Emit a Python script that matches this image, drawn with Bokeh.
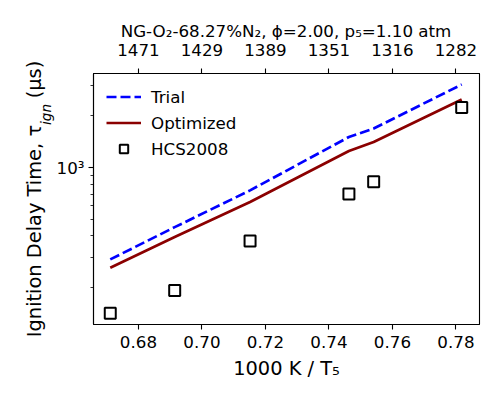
import math
from bokeh.plotting import figure
from bokeh.models import (Range1d, LinearAxis, FixedTicker, Label, Legend, LegendItem)
from bokeh.embed import file_html
from bokeh.resources import INLINE

# ---- data ----
inv_T = [0.67113, 0.69142, 0.71516, 0.74629, 0.75409, 0.78182]
tau_trial = [292, 450, 737, 1508, 1689, 3048]
tau_optimized = [261, 394, 630, 1250, 1410, 2492]
tau_hcs2008 = [141.8, 192.6, 374, 703, 826, 2241]

x_ticks = [0.68, 0.70, 0.72, 0.74, 0.76, 0.78]
x_tick_labels = ["0.68", "0.70", "0.72", "0.74", "0.76", "0.78"]
top_tick_labels = ["1471", "1429", "1389", "1351", "1316", "1282"]
y_major_ticks = [1000]
y_major_labels = ["10³"]
y_minor_ticks = [200, 300, 400, 500, 600, 700, 800, 900, 2000, 3000]

title_text = "NG-O₂-68.27%N₂, ϕ=2.00, p₅=1.10 atm"
x_label = "1000 K / T₅"
y_label = "Ignition Delay Time, τ\u00a0\u00a0\u00a0\u00a0\u200a(μs)"
y_label_sub = "ign"
series_names = ["Trial", "Optimized", "HCS2008"]

FONT = "DejaVu Sans"
TICK_FS = "16.7px"
LABEL_FS = "19.4px"

X0, X1 = 0.66585, 0.78742
Y0, Y1 = 122, 3532
FL, FW, FB, FH = 93, 386, 324, 251   # frame left, width, bottom, height (canvas px)

p = figure(width=500, height=400, output_backend="svg", toolbar_location=None,
           x_range=Range1d(X0, X1), y_range=Range1d(Y0, Y1),
           y_axis_type="log",
           min_border_left=FL, min_border_right=500 - FL - FW,
           min_border_top=FB - FH, min_border_bottom=400 - FB,
           background_fill_color="white", border_fill_color="white")

p.grid.visible = False
p.outline_line_color = "black"
p.outline_line_width = 1.1
p.outline_line_alpha = 1.0

def style_axis(ax, standoff=4):
    ax.axis_line_color = "black"
    ax.axis_line_width = 1.1
    ax.major_tick_line_color = "black"
    ax.major_tick_line_width = 1.1
    ax.minor_tick_line_color = "black"
    ax.minor_tick_line_width = 0.8
    ax.major_tick_in = 0
    ax.major_tick_out = 5
    ax.minor_tick_in = 0
    ax.minor_tick_out = 3
    ax.major_label_text_font = FONT
    ax.major_label_text_font_size = TICK_FS
    ax.major_label_text_color = "black"
    ax.major_label_standoff = standoff

def style_label(ax, standoff):
    ax.axis_label_text_font = FONT
    ax.axis_label_text_font_size = LABEL_FS
    ax.axis_label_text_font_style = "normal"
    ax.axis_label_text_color = "black"
    ax.axis_label_standoff = standoff

xa = p.xaxis[0]
xa.ticker = FixedTicker(ticks=x_ticks, minor_ticks=[])
xa.major_label_overrides = dict(zip(x_ticks, x_tick_labels))
style_axis(xa, 6)
xa.axis_label = x_label
style_label(xa, 6)

ya = p.yaxis[0]
ya.ticker = FixedTicker(ticks=y_major_ticks, minor_ticks=y_minor_ticks)
ya.major_label_overrides = dict(zip(y_major_ticks, y_major_labels))
style_axis(ya)
ya.axis_label = y_label
style_label(ya, 8)

top = LinearAxis(ticker=FixedTicker(ticks=x_ticks, minor_ticks=[]),
                 major_label_overrides=dict(zip(x_ticks, top_tick_labels)))
style_axis(top, 13)
p.add_layout(top, "above")

r_trial = p.line(inv_T, tau_trial, line_color="#0000ff", line_width=2.7, line_dash="10 4")
r_opt = p.line(inv_T, tau_optimized, line_color="#8b0000", line_width=2.7)
r_exp = p.scatter(inv_T, tau_hcs2008, marker="square", size=11, fill_color=None,
                  line_color="black", line_width=2)

legend = Legend(items=[LegendItem(label=series_names[0], renderers=[r_trial]),
                       LegendItem(label=series_names[1], renderers=[r_opt]),
                       LegendItem(label=series_names[2], renderers=[r_exp])],
                location="top_left", border_line_alpha=0, background_fill_alpha=0,
                label_text_font=FONT, label_text_font_size=TICK_FS, label_text_color="black",
                glyph_width=35, glyph_height=21, label_height=21, spacing=5,
                margin=10, padding=3, label_standoff=10)
p.add_layout(legend)

# canvas pixel -> data coordinates (labels placed in side panels are not clipped)
def cx_to_data(cx):
    return X0 + (cx - FL) / FW * (X1 - X0)

def cy_to_data(cy):
    l0, l1 = math.log10(Y0), math.log10(Y1)
    return 10 ** (l0 + (FB - cy) / FH * (l1 - l0))

# subscript of tau in the y label
p.add_layout(Label(x=cx_to_data(45.5), y=cy_to_data(124.5), text=y_label_sub,
                   angle=90, angle_units="deg", text_align="left",
                   text_baseline="alphabetic", text_font=FONT, text_font_size="13.6px",
                   text_font_style="italic", text_color="black"), "right")

# title
p.add_layout(Label(x=cx_to_data(285.5), y=cy_to_data(30.7), text=title_text,
                   text_align="center", text_baseline="alphabetic",
                   text_font=FONT, text_font_size=TICK_FS, text_color="black"), "above")

open("out.html", "w").write(file_html(p, INLINE))
